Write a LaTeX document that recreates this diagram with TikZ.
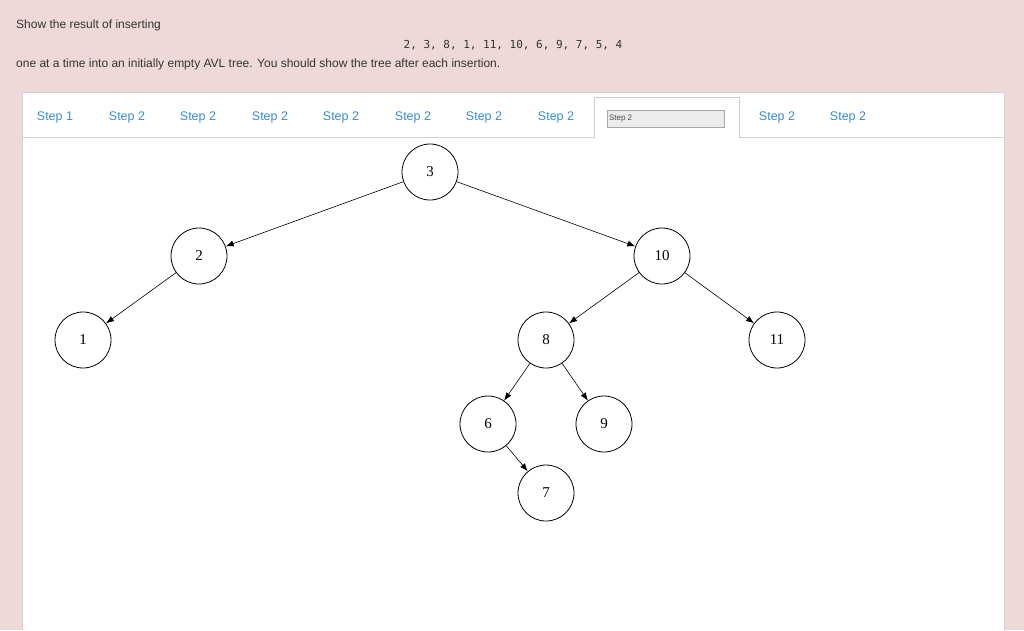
\documentclass[tikz,border=0pt]{standalone}
\usepackage{fontspec}
\setmainfont{Liberation Sans}
\newfontfamily\numfont{Liberation Serif}
\newfontfamily\codefont{DejaVu Sans Mono}
\usetikzlibrary{arrows.meta}
\definecolor{bgpink}{HTML}{EED9D8}
\definecolor{tabblue}{HTML}{3A8BD2}
\begin{document}
\begin{tikzpicture}[x=1pt,y=-1pt,
  tnode/.style={circle,draw,line width=0.8pt,minimum size=56pt,inner sep=0pt,font=\numfont\fontsize{15}{17}\selectfont},
  edge/.style={-{Latex[length=8pt,width=6pt]},line width=0.6pt},
  tab/.style={text=tabblue,font=\fontsize{12.5}{14}\selectfont}]
\useasboundingbox (0,0) rectangle (1024,630);
\fill[bgpink] (0,0) rectangle (1024,630);
\fill[white] (22,92) rectangle (1004,630);
\draw[gray!35] (22,137.5) -- (594,137.5) (739,137.5) -- (1004,137.5);
\draw[gray!35] (22,630) -- (22,92) -- (1004,92) -- (1004,630);
\draw[gray!40,fill=white] (594,137.5) -- (594,97) -- (739,97) -- (739,137.5);
\node[draw=gray!70,fill=gray!15,minimum width=117pt,minimum height=17pt,inner sep=0pt] (box) at (665.5,118.5) {};
\node[anchor=west,font=\fontsize{8}{9}\selectfont,text=black!70,inner sep=2pt] at (box.west) {Step 2};
\node[anchor=west,font=\fontsize{12}{14}\selectfont,text=black!80,inner sep=0pt] (t1) at (16,25) {Show the result of inserting};
\node[font=\codefont\fontsize{11}{13}\selectfont,text=black!80,inner sep=0pt] (t2) at (513,45) {2, 3, 8, 1, 11, 10, 6, 9, 7, 5, 4};
\node[anchor=west,font=\fontsize{12}{14}\selectfont,text=black!80,inner sep=0pt] (t3) at (16,64) {one at a time into an initially empty AVL tree. You should show the tree after each insertion.};
\foreach \x/\l in {55/Step 1,127/Step 2,198/Step 2,270/Step 2,341/Step 2,413/Step 2,484/Step 2,556/Step 2,777/Step 2,848/Step 2}
  \node[tab] at (\x,117) {\l};
\node[tnode] (n3) at (430,172) {3};
\node[tnode] (n2) at (199,256) {2};
\node[tnode] (n10) at (662,256) {10};
\node[tnode] (n1) at (83,340) {1};
\node[tnode] (n8) at (546,340) {8};
\node[tnode] (n11) at (777,340) {11};
\node[tnode] (n6) at (488,424) {6};
\node[tnode] (n9) at (604,424) {9};
\node[tnode] (n7) at (546,493) {7};
\foreach \a/\b in {n3/n2,n3/n10,n2/n1,n10/n8,n10/n11,n8/n6,n8/n9,n6/n7}
  \draw[edge] (\a) -- (\b);
\end{tikzpicture}
\end{document}
